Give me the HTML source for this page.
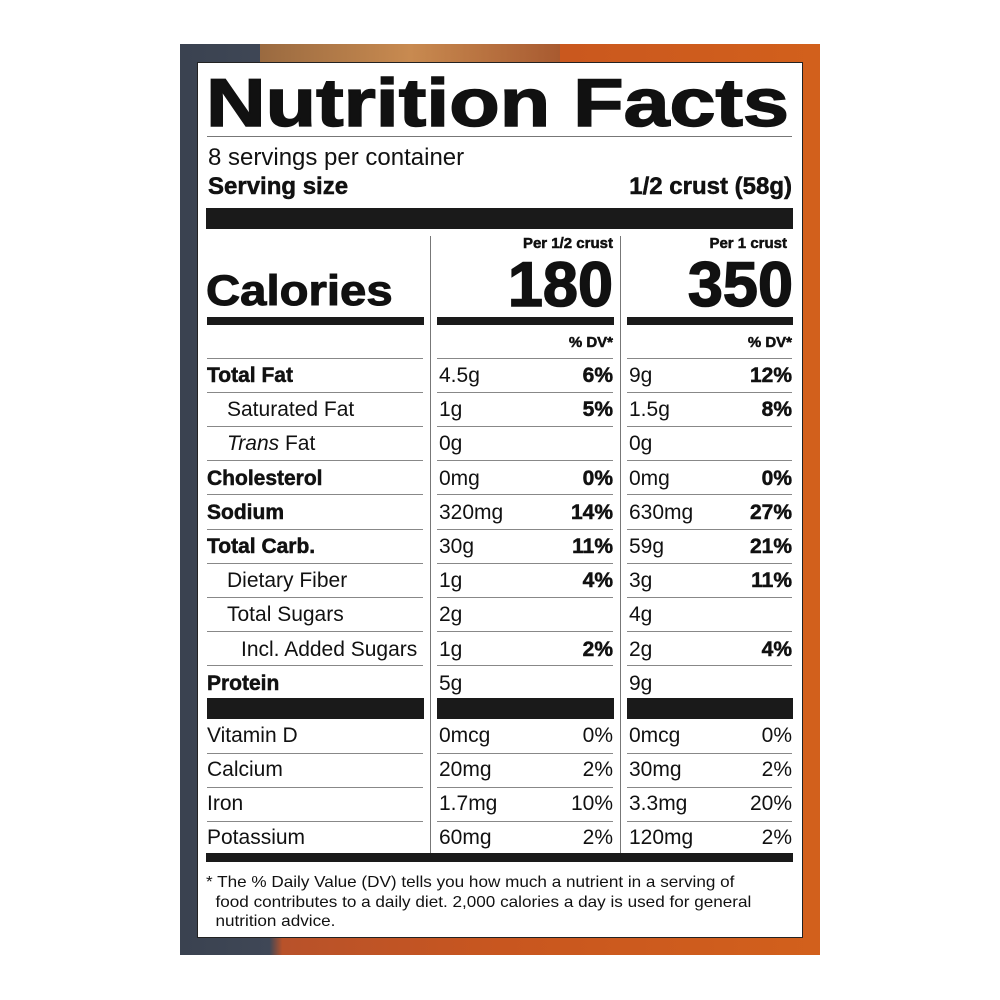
<!DOCTYPE html>
<html><head><meta charset="utf-8"><style>
body{margin:0;width:1000px;height:1000px;background:#fff;position:relative;overflow:hidden;font-family:"Liberation Sans",Arial,sans-serif;color:#111}
.a{position:absolute;white-space:nowrap}
.b{font-weight:bold;-webkit-text-stroke:0.5px #111}
.r{text-align:right}
.bar{position:absolute;background:#1a1a1a}
.ln{position:absolute;height:1px;background:#888}
.t{font-size:21px;line-height:24px}
</style></head><body>
<div class="a" style="left:180px;top:44px;width:640px;height:911px;background:linear-gradient(90deg,#3a4250 0,#3f4756 14%,#b8522a 16%,#c8561f 50%,#d2601c 100%)"></div>
<div class="a" style="left:260px;top:44px;width:300px;height:20px;background:linear-gradient(90deg,#9a6a40,#c88a50,#a85a30)"></div>
<div class="a" style="left:197px;top:62px;width:604px;height:874px;background:#fff;border:1px solid #222"></div>

<div class="a b" style="left:206px;top:63px;font-size:68px;line-height:80px;transform:scaleX(1.215);transform-origin:left;-webkit-text-stroke:1.5px #111">Nutrition Facts</div>
<div class="ln" style="left:207px;top:136px;width:585px;background:#777"></div>
<div class="a" style="left:208px;top:144px;font-size:24px;line-height:28px">8 servings per container</div>
<div class="a b" style="left:208px;top:173px;font-size:24px;line-height:28px">Serving size</div>
<div class="a b r" style="right:208px;top:173px;font-size:24px;line-height:28px">1/2 crust (58g)</div>
<div class="bar" style="left:206px;top:208px;width:587px;height:21px"></div>

<div class="a" style="left:430px;top:236px;width:1px;height:619px;background:#777"></div>
<div class="a" style="left:620px;top:236px;width:1px;height:619px;background:#777"></div>

<div class="a b r" style="right:387px;top:235px;font-size:15px;line-height:18px">Per 1/2 crust</div>
<div class="a b r" style="right:213px;top:235px;font-size:15px;line-height:18px">Per 1 crust</div>
<div class="a b r" style="right:387px;top:250px;font-size:63px;line-height:70px;-webkit-text-stroke:1.5px #111">180</div>
<div class="a b r" style="right:207px;top:250px;font-size:63px;line-height:70px;-webkit-text-stroke:1.5px #111">350</div>
<div class="a b" style="left:206px;top:266px;font-size:43px;line-height:50px;-webkit-text-stroke:1px #111;transform:scaleX(1.1);transform-origin:left">Calories</div>
<div class="bar" style="left:207px;top:317px;width:217px;height:8px"></div>
<div class="bar" style="left:437px;top:317px;width:177px;height:8px"></div>
<div class="bar" style="left:627px;top:317px;width:166px;height:8px"></div>
<div class="a b r" style="right:387px;top:334px;font-size:15px;line-height:18px">% DV*</div>
<div class="a b r" style="right:208px;top:334px;font-size:15px;line-height:18px">% DV*</div>

<div id="lines"></div>
<script>
var ys=[358,392,426,460,494,529,563,597,631,665,753,787,821];
var h='';ys.forEach(function(y){h+='<div class="ln" style="left:207px;top:'+y+'px;width:216px"></div><div class="ln" style="left:437px;top:'+y+'px;width:176px"></div><div class="ln" style="left:627px;top:'+y+'px;width:165px"></div>';});
var rows=[
["Total Fat",1,0,"4.5g","6%","9g","12%"],
["Saturated Fat",0,20,"1g","5%","1.5g","8%"],
["<i>Trans</i> Fat",0,20,"0g","","0g",""],
["Cholesterol",1,0,"0mg","0%","0mg","0%"],
["Sodium",1,0,"320mg","14%","630mg","27%"],
["Total Carb.",1,0,"30g","11%","59g","21%"],
["Dietary Fiber",0,20,"1g","4%","3g","11%"],
["Total Sugars",0,20,"2g","","4g",""],
["Incl. Added Sugars",0,34,"1g","2%","2g","4%"],
["Protein",1,0,"5g","","9g",""]];
rows.forEach(function(r,i){var y=364+i*34.2;
h+='<div class="a t'+(r[1]?' b':'')+'" style="left:'+(207+r[2])+'px;top:'+y+'px">'+r[0]+'</div>';
h+='<div class="a t" style="left:439px;top:'+y+'px">'+r[3]+'</div>';
h+='<div class="a t b r" style="right:387px;top:'+y+'px">'+r[4]+'</div>';
h+='<div class="a t" style="left:629px;top:'+y+'px">'+r[5]+'</div>';
h+='<div class="a t b r" style="right:208px;top:'+y+'px">'+r[6]+'</div>';});
var v=[["Vitamin D","0mcg","0%","0mcg","0%"],["Calcium","20mg","2%","30mg","2%"],["Iron","1.7mg","10%","3.3mg","20%"],["Potassium","60mg","2%","120mg","2%"]];
v.forEach(function(r,i){var y=724+i*34;
h+='<div class="a t" style="left:207px;top:'+y+'px">'+r[0]+'</div>';
h+='<div class="a t" style="left:439px;top:'+y+'px">'+r[1]+'</div>';
h+='<div class="a t r" style="right:387px;top:'+y+'px">'+r[2]+'</div>';
h+='<div class="a t" style="left:629px;top:'+y+'px">'+r[3]+'</div>';
h+='<div class="a t r" style="right:208px;top:'+y+'px">'+r[4]+'</div>';});
document.getElementById('lines').innerHTML=h;
</script>
<div class="bar" style="left:207px;top:698px;width:217px;height:21px"></div>
<div class="bar" style="left:437px;top:698px;width:177px;height:21px"></div>
<div class="bar" style="left:627px;top:698px;width:166px;height:21px"></div>
<div class="bar" style="left:206px;top:853px;width:587px;height:9px"></div>
<div class="a" style="left:206px;top:873px;font-size:16px;line-height:19.5px;transform:scaleX(1.07);transform-origin:left">* The % Daily Value (DV) tells you how much a nutrient in a serving of<br>&nbsp;&nbsp;food contributes to a daily diet. 2,000 calories a day is used for general<br>&nbsp;&nbsp;nutrition advice.</div>
</body></html>
